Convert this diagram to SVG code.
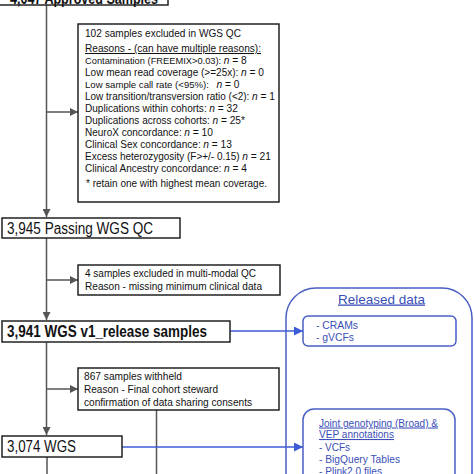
<svg xmlns="http://www.w3.org/2000/svg" width="474" height="474" viewBox="0 0 474 474">
<defs>
<style>
.box{fill:#fff;stroke:#222;stroke-width:1.5}
.ln{stroke:#555;stroke-width:1.5;fill:none}
.bl{stroke:#3d5bd6;stroke-width:1.3;fill:none}
.bbox{fill:none;stroke:#4a5fc4;stroke-width:1.5}
.t{font-family:"Liberation Sans",Arial,sans-serif;font-size:10.2px;fill:#111}
.i{font-style:italic}
.big{font-family:"Liberation Sans",Arial,sans-serif;font-size:16px;fill:#111}
.bold{font-weight:bold}
.bt{font-family:"Liberation Sans",Arial,sans-serif;font-size:10.2px;fill:#3a4fb8}
.u{text-decoration:underline}
</style>
<marker id="ag" viewBox="0 0 10 10" refX="10" refY="5" markerWidth="8" markerHeight="8" markerUnits="userSpaceOnUse" orient="auto"><path d="M0,0 L10,5 L0,10 z" fill="#555"/></marker>
<marker id="ab" viewBox="0 0 10 10" refX="10" refY="5" markerWidth="9" markerHeight="9" markerUnits="userSpaceOnUse" orient="auto"><path d="M0,0 L10,5 L0,10 z" fill="#3d5bd6"/></marker>
</defs>
<rect width="474" height="474" fill="#fff"/>

<g id="connectors">
<line class="ln" x1="46.5" y1="5" x2="46.5" y2="217" marker-end="url(#ag)"/>
<line class="ln" x1="46.5" y1="112" x2="78" y2="112" marker-end="url(#ag)"/>
<line class="ln" x1="46.5" y1="238" x2="46.5" y2="320" marker-end="url(#ag)"/>
<line class="ln" x1="46.5" y1="280" x2="78" y2="280" marker-end="url(#ag)"/>
<line class="ln" x1="46.5" y1="342" x2="46.5" y2="435" marker-end="url(#ag)"/>
<line class="ln" x1="46.5" y1="389" x2="78" y2="389" marker-end="url(#ag)"/>
<line class="ln" x1="47" y1="457" x2="47" y2="474"/>
<line class="ln" x1="156.5" y1="410" x2="156.5" y2="474"/>
<line class="bl" x1="230" y1="331" x2="303" y2="331" marker-end="url(#ab)"/>
<line class="bl" x1="122" y1="447" x2="303" y2="447" marker-end="url(#ab)"/>
</g>

<g id="approved">
<rect class="box" x="-2" y="-20" width="170" height="25"/>
<text class="big bold" x="10" y="3.5" textLength="148" lengthAdjust="spacingAndGlyphs">4,047 Approved Samples</text>
</g>

<g id="wgs-qc-excluded">
<rect class="box" x="78" y="24" width="201" height="178"/>
<text class="t" x="85" y="37" style="font-size:11.5px" textLength="156" lengthAdjust="spacingAndGlyphs">102 samples excluded in WGS QC</text>
<text class="t u" x="85" y="52" textLength="176" lengthAdjust="spacingAndGlyphs">Reasons - (can have multiple reasons):</text>

<text class="t" x="85" y="64" style="font-size:9.3px">Contamination (FREEMIX&gt;0.03):</text>
<text class="t i" x="223.8" y="64">n</text>
<text class="t" x="232.3" y="64">= 8</text>

<text class="t" x="85" y="76" textLength="153.4" lengthAdjust="spacingAndGlyphs">Low mean read coverage (&gt;=25x):</text>
<text class="t i" x="241" y="76">n</text>
<text class="t" x="249.5" y="76">= 0</text>

<text class="t" x="85" y="88" style="font-size:9.6px">Low sample call rate (&lt;95%):</text>
<text class="t i" x="216.4" y="88">n</text>
<text class="t" x="224.9" y="88">= 0</text>

<text class="t" x="85" y="100" textLength="164.4" lengthAdjust="spacingAndGlyphs">Low transition/transversion ratio (&lt;2):</text>
<text class="t i" x="252" y="100">n</text>
<text class="t" x="260.5" y="100">= 1</text>

<text class="t" x="85" y="112" textLength="121.7" lengthAdjust="spacingAndGlyphs">Duplications within cohorts:</text>
<text class="t i" x="209.3" y="112">n</text>
<text class="t" x="217.8" y="112">= 32</text>

<text class="t" x="85" y="124" textLength="124.8" lengthAdjust="spacingAndGlyphs">Duplications across cohorts:</text>
<text class="t i" x="212.4" y="124">n</text>
<text class="t" x="220.9" y="124">= 25*</text>

<text class="t" x="85" y="136" textLength="96.7" lengthAdjust="spacingAndGlyphs">NeuroX concordance:</text>
<text class="t i" x="184.3" y="136">n</text>
<text class="t" x="192.8" y="136">= 10</text>

<text class="t" x="85" y="148" textLength="115.7" lengthAdjust="spacingAndGlyphs">Clinical Sex concordance:</text>
<text class="t i" x="203.3" y="148">n</text>
<text class="t" x="211.8" y="148">= 13</text>

<text class="t" x="85" y="160" textLength="154.7" lengthAdjust="spacingAndGlyphs">Excess heterozygosity (F&gt;+/- 0.15)</text>
<text class="t i" x="242.3" y="160">n</text>
<text class="t" x="250.8" y="160">= 21</text>

<text class="t" x="85" y="172" textLength="136.4" lengthAdjust="spacingAndGlyphs">Clinical Ancestry concordance:</text>
<text class="t i" x="224" y="172">n</text>
<text class="t" x="232.5" y="172">= 4</text>

<text class="t" x="86" y="187" textLength="181" lengthAdjust="spacingAndGlyphs">* retain one with highest mean coverage.</text>
</g>

<g id="passing-qc">
<rect class="box" x="2" y="218" width="178" height="20"/>
<text class="big" x="7" y="233.5" textLength="146" lengthAdjust="spacingAndGlyphs">3,945 Passing WGS QC</text>
</g>

<g id="multimodal-excluded">
<rect class="box" x="78" y="265" width="202" height="30"/>
<text class="t" x="85" y="277" textLength="171" lengthAdjust="spacingAndGlyphs">4 samples excluded in multi-modal QC</text>
<text class="t" x="85" y="289.5" textLength="177" lengthAdjust="spacingAndGlyphs">Reason - missing minimum clinical data</text>
</g>

<g id="release-samples">
<rect class="box" x="2" y="321" width="228" height="21"/>
<text class="big bold" x="7" y="337" textLength="200" lengthAdjust="spacingAndGlyphs">3,941 WGS v1_release samples</text>
</g>

<g id="withheld">
<rect class="box" x="78" y="368" width="201" height="42"/>
<text class="t" x="84" y="380" textLength="98" lengthAdjust="spacingAndGlyphs">867 samples withheld</text>
<text class="t" x="84" y="393" textLength="134" lengthAdjust="spacingAndGlyphs">Reason - Final cohort steward</text>
<text class="t" x="84" y="405.5" textLength="168" lengthAdjust="spacingAndGlyphs">confirmation of data sharing consents</text>
</g>

<g id="wgs-3074">
<rect class="box" x="2" y="436" width="120" height="21"/>
<text class="big" x="7" y="452" textLength="69" lengthAdjust="spacingAndGlyphs">3,074 WGS</text>
</g>

<g id="released-data">
<rect class="bbox" x="286" y="288" width="186" height="230" rx="30" ry="30"/>
<text class="bt u" x="381.5" y="303.5" text-anchor="middle" style="font-size:13px" textLength="87" lengthAdjust="spacingAndGlyphs">Released data</text>
</g>

<g id="crams">
<rect class="bbox" x="303" y="316" width="153" height="30" rx="5" ry="5"/>
<text class="bt" x="316" y="329" textLength="42" lengthAdjust="spacingAndGlyphs">- CRAMs</text>
<text class="bt" x="316" y="341" textLength="38" lengthAdjust="spacingAndGlyphs">- gVCFs</text>
</g>

<g id="joint-genotyping">
<rect class="bbox" x="303" y="409" width="152" height="90" rx="11" ry="11"/>
<text class="bt u" x="319" y="426.5" style="font-size:10.6px" textLength="119" lengthAdjust="spacingAndGlyphs">Joint genotyping (Broad) &amp;</text>
<text class="bt u" x="319" y="438" style="font-size:10.6px" textLength="75" lengthAdjust="spacingAndGlyphs">VEP annotations</text>
<text class="bt" x="319" y="450.5" style="font-size:10.6px" textLength="31" lengthAdjust="spacingAndGlyphs">- VCFs</text>
<text class="bt" x="319" y="462.5" style="font-size:10.6px" textLength="81" lengthAdjust="spacingAndGlyphs">- BigQuery Tables</text>
<text class="bt" x="319" y="474.5" style="font-size:10.6px" textLength="63" lengthAdjust="spacingAndGlyphs">- Plink2.0 files</text>
</g>
</svg>
